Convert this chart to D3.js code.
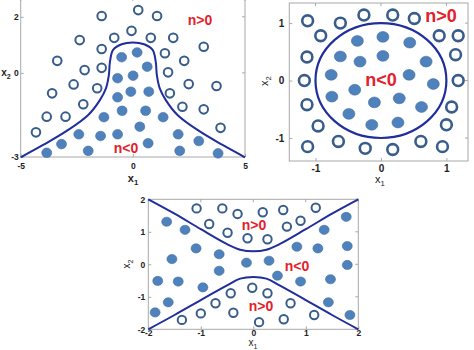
<!DOCTYPE html>
<html><head><meta charset="utf-8">
<script src="https://cdn.jsdelivr.net/npm/d3@7"></script>
<style>body{margin:0;background:#fff}svg{display:block}</style>
</head><body>
<svg id="c" width="474" height="350"></svg>
<script>
// ---------- Panel 1 (bell-shaped boundary) ----------
const p1XTicks = [-5, 0, 5];
const p1YTicks = [-3, 0, 2];
const p1OpenX1 = [0.24,-1.39,1.08,-0.06,-0.83,0.80,-2.37,1.80,-1.39,3.16,1.43,-3.37,2.29,-1.39,-2.15,1.57,-2.64,-1.59,2.49,3.73,-3.60,1.65,-2.21,2.21,3.16,-3.84,-3.00,-4.32,3.91];
const p1OpenX2 = [2.24,2.03,2.03,1.50,1.25,1.25,1.17,1.25,0.85,0.93,0.70,0.43,0.43,0.18,0.10,0.02,-0.41,-0.55,-0.40,-0.47,-0.73,-0.73,-1.12,-1.21,-1.30,-1.56,-1.56,-2.12,-1.96];
const p1FillX1 = [0.19,-0.50,0.64,0.01,-0.68,-0.09,0.71,-0.68,-0.48,0.57,-1.29,1.35,0.31,-2.41,-1.44,-0.68,2.02,-3.18,0.68,2.94,-3.84,-1.99,2.09,3.80];
const p1FillX2 = [0.73,0.56,0.22,-0.10,-0.19,-0.67,-0.67,-0.87,-1.35,-1.35,-1.58,-1.58,-1.92,-2.19,-2.25,-2.19,-2.19,-2.54,-2.51,-2.43,-2.85,-2.78,-2.78,-2.87];
const p1CurveX1 = [-5,-4,-2.95,-1.99,-1.47,-1.2,-1.07,-1.02,-0.88,-0.5,0,0.5,0.88,1.02,1.07,1.2,1.47,1.99,2.95,4,5];
const p1CurveX2 = [-3.01,-2.57,-2.07,-1.5,-0.97,-0.55,-0.08,0.40,0.82,1.02,1.08,1.02,0.82,0.40,-0.08,-0.55,-0.97,-1.5,-2.07,-2.57,-3.01];

// ---------- Panel 2 (circle boundary) ----------
const p2XTicks = [-1, 0, 1];
const p2YTicks = [-1, 0, 1];
const p2OpenX1 = [-1.12,-0.62,-0.26,0.18,0.51,-0.92,0.89,1.18,-1.13,1.14,-1.17,1.18,-1.13,1.08,-0.96,1.00,-1.12,-0.65,-0.24,0.18,0.61,0.94];
const p2OpenX2 = [1.04,1.00,1.14,1.14,1.08,0.78,0.78,0.78,0.41,0.45,0.00,0.00,-0.42,-0.46,-0.79,-0.77,-1.15,-1.06,-1.18,-1.20,-1.06,-1.15];
const p2FillX1 = [0.03,-0.36,0.44,-0.62,0.03,-0.32,0.69,-0.76,0.43,0.80,-0.40,-0.75,0.28,-0.10,0.62,-0.49,0.26,-0.14];
const p2FillX2 = [0.76,0.69,0.66,0.42,0.43,0.33,0.33,0.10,0.10,-0.06,-0.16,-0.28,-0.31,-0.38,-0.46,-0.58,-0.73,-0.77];
const p2Radius = 1;

// ---------- Panel 3 (hyperbolic boundaries) ----------
const p3XTicks = [-2, -1, 0, 1, 2];
const p3YTicks = [-2, -1, 0, 1, 2];
const p3OpenX1 = [-1.08,-0.59,-0.30,0.18,0.57,1.19,-0.84,0.90,0.64,-0.49,-0.11,0.27,-0.02,0.27,-0.43,-0.72,0.71,-0.38,-1.00,-1.36,0.11,0.58,1.16];
const p3OpenX2 = [1.72,1.72,1.55,1.60,1.67,1.74,1.24,1.34,1.16,0.97,0.80,0.77,-0.72,-0.89,-0.89,-1.20,-1.20,-1.49,-1.51,-1.71,-1.78,-1.69,-1.56];
const p3FillX1 = [-1.65,-1.30,1.77,1.35,-1.09,-0.65,0.83,1.23,1.79,-1.55,-0.13,0.30,1.79,-0.65,-1.82,-1.43,0.46,0.90,1.47,-0.96,-1.62,-1.87,1.43,1.84];
const p3FillX2 = [1.31,1.06,1.46,1.06,0.49,0.31,0.54,0.49,0.56,0.16,0.05,0.11,-0.02,-0.20,-0.51,-0.53,-0.35,-0.53,-0.46,-0.71,-1.17,-1.48,-1.17,-1.56];
const p3CurveX1 = [-2,-1.5,-1,-0.5,-0.25,0,0.25,0.5,1,1.5,2];
const p3UpperX2 = [2,1.56,1.08,0.62,0.45,0.4,0.45,0.62,1.08,1.56,2];
const p3LowerX2 = [-2,-1.56,-1.1,-0.65,-0.44,-0.39,-0.44,-0.65,-1.1,-1.56,-2];

// ---------- drawing ----------
const svg = d3.select("#c");
svg.append("rect").attr("width",474).attr("height",350).attr("fill","#fff");
const OPEN = "#385d8a", FILL = "#4f81bd", CURVE = "#1f2e9b", RED = "#e4202a", BOX = "#a8a8a8";
const FONT = "'Liberation Sans', Arial, sans-serif";
const fmt = d => String(d);

function panel(o){
  const x = d3.scaleLinear().domain(o.xd).range(o.xr);
  const y = d3.scaleLinear().domain(o.yd).range(o.yr);
  const g = svg.append("g");
  const top = (o.boxTop ?? o.yr[1]);
  g.append("rect").attr("x",o.xr[0]).attr("y",top)
    .attr("width",o.xr[1]-o.xr[0]).attr("height",o.yr[0]-top)
    .attr("fill","#fff").attr("stroke",BOX).attr("stroke-width",1);
  const ax = g.append("g").attr("transform",`translate(0,${o.yr[0]})`)
    .call(d3.axisBottom(x).tickValues(o.xt).tickFormat(fmt).tickSize(-3).tickPadding(o.xpad).tickSizeOuter(0));
  const ay = g.append("g").attr("transform",`translate(${o.xr[0]},0)`)
    .call(d3.axisLeft(y).tickValues(o.yt).tickFormat(fmt).tickSize(-3).tickPadding(o.ypad).tickSizeOuter(0));
  [ax,ay].forEach(a=>{
    a.select(".domain").remove();
    a.selectAll("line").attr("stroke",BOX);
    a.selectAll("text").attr("font-family",FONT).attr("font-size",o.tickFs)
      .attr("font-weight","bold").attr("fill","#222");
  });
  g.selectAll(".tt").data(o.xt).join("line").attr("x1",d=>x(d)).attr("x2",d=>x(d))
    .attr("y1",top).attr("y2",top+3).attr("stroke",BOX);
  g.selectAll(".rt").data(o.yt).join("line").attr("x1",o.xr[1]).attr("x2",o.xr[1]-3)
    .attr("y1",d=>y(d)).attr("y2",d=>y(d)).attr("stroke",BOX);
  return {g,x,y};
}

function markers(P, ox, oy, fx, fy, ro, rfx, rfy, sw){
  P.g.append("g").selectAll("ellipse").data(fx.map((v,i)=>[v,fy[i]])).join("ellipse")
    .attr("cx",d=>P.x(d[0])).attr("cy",d=>P.y(d[1])).attr("rx",rfx).attr("ry",rfy)
    .attr("fill",FILL).attr("stroke","#41709f").attr("stroke-width",0.6);
  P.g.append("g").selectAll("circle").data(ox.map((v,i)=>[v,oy[i]])).join("circle")
    .attr("cx",d=>P.x(d[0])).attr("cy",d=>P.y(d[1])).attr("r",ro)
    .attr("fill","#fff").attr("stroke",OPEN).attr("stroke-width",sw);
}

function label(g, x, y, txt, fs, fill, weight){
  g.append("text").attr("x",x).attr("y",y).attr("text-anchor","middle")
    .attr("dominant-baseline","central").attr("font-family",FONT)
    .attr("font-size",fs).attr("font-weight",weight||"bold").attr("fill",fill).text(txt);
}
function axisName(g, x, y, sub, fs, rot, weight){
  const t = g.append("text").attr("font-family",FONT).attr("font-size",fs)
    .attr("font-weight",weight).attr("fill","#222").attr("text-anchor","middle")
    .attr("transform",`translate(${x},${y}) rotate(${rot})`);
  t.append("tspan").text("x");
  t.append("tspan").attr("font-size",fs*0.7).attr("dy",fs*0.3).text(sub);
}

// Panel 1
const P1 = panel({xd:[-5,5],xr:[20.7,245],yd:[-3,2.6],yr:[157,0],boxTop:-2,
  xt:p1XTicks,yt:p1YTicks,xpad:6,ypad:2,tickFs:8.5});
const line1 = d3.line().x(d=>P1.x(d[0])).y(d=>P1.y(d[1])).curve(d3.curveCatmullRom.alpha(0.5));
markers(P1,p1OpenX1,p1OpenX2,p1FillX1,p1FillX2,4.3,5,4.8,2);
P1.g.append("path").attr("d",line1(p1CurveX1.map((v,i)=>[v,p1CurveX2[i]])))
  .attr("fill","none").attr("stroke",CURVE).attr("stroke-width",2);
label(P1.g,200,20,"n>0",14,RED);
label(P1.g,126,148,"n<0",14,RED);
axisName(P1.g,6,76,"2",10,0,"bold");
axisName(P1.g,133,182,"1",11,0,"bold");

// Panel 2
const P2 = panel({xd:[-1.4,1.33],xr:[289.3,468],yd:[-1.4,1.35],yr:[161,3],
  xt:p2XTicks,yt:p2YTicks,xpad:4,ypad:5,tickFs:10});
markers(P2,p2OpenX1,p2OpenX2,p2FillX1,p2FillX2,5.4,6,5.4,2.6);
P2.g.append("ellipse").attr("cx",P2.x(0)).attr("cy",P2.y(0))
  .attr("rx",P2.x(p2Radius)-P2.x(0)).attr("ry",P2.y(0)-P2.y(p2Radius))
  .attr("fill","none").attr("stroke",CURVE).attr("stroke-width",2.2);
label(P2.g,441,16,"n>0",18,RED);
label(P2.g,381,80,"n<0",18,RED);
axisName(P2.g,268,81,"2",11,-90,"normal");
axisName(P2.g,380,183,"1",11,0,"normal");

// Panel 3
const P3 = panel({xd:[-2,2],xr:[148.3,358.3],yd:[-2,2],yr:[329.3,199.3],
  xt:p3XTicks,yt:p3YTicks,xpad:1,ypad:3,tickFs:8.5});
markers(P3,p3OpenX1,p3OpenX2,p3FillX1,p3FillX2,4.2,5,4.6,2);
const line3 = d3.line().x(d=>P3.x(d[0])).y(d=>P3.y(d[1])).curve(d3.curveCatmullRom.alpha(0.5));
[p3UpperX2,p3LowerX2].forEach(arr=>{
  P3.g.append("path").attr("d",line3(p3CurveX1.map((v,i)=>[v,arr[i]])))
    .attr("fill","none").attr("stroke",CURVE).attr("stroke-width",2);
});
label(P3.g,254,225,"n>0",14,RED);
label(P3.g,297,266,"n<0",14,RED);
label(P3.g,261,306,"n>0",14,RED);
axisName(P3.g,130,264,"2",10,-90,"normal");
axisName(P3.g,253,346,"1",10,0,"normal");
</script>
</body></html>
